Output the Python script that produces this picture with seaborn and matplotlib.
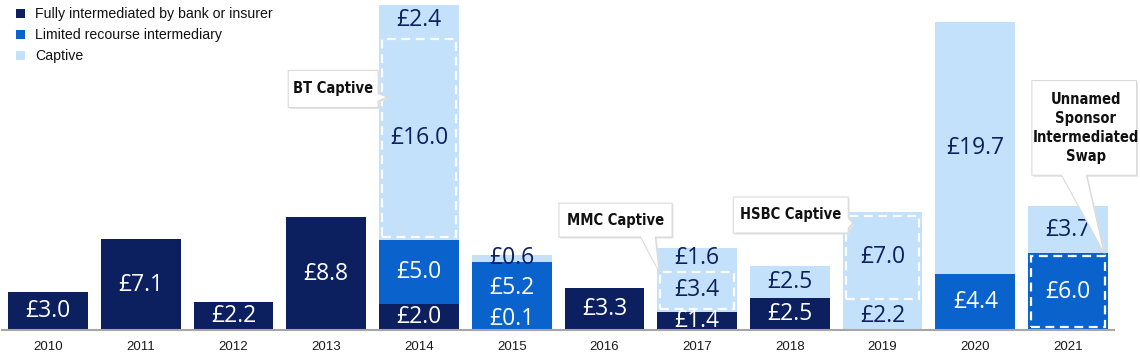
import numpy as np
import pandas as pd
import matplotlib
matplotlib.use("Agg")
import matplotlib.pyplot as plt
from matplotlib.patches import Rectangle, Polygon, Patch
import seaborn as sns

# ---------------- data ----------------
years = ["2010", "2011", "2012", "2013", "2014", "2015",
         "2016", "2017", "2018", "2019", "2020", "2021"]
fully = [3.0, 7.1, 2.2, 8.8, 2.0, 0.1, 3.3, 1.4, 2.5, 0.0, 0.0, 0.0]
limited = [0.0, 0.0, 0.0, 0.0, 5.0, 5.2, 0.0, 0.0, 0.0, 0.0, 4.4, 6.0]
captive_lower = [0.0, 0.0, 0.0, 0.0, 16.0, 0.6, 0.0, 3.4, 2.5, 2.2, 19.7, 3.7]
captive_upper = [0.0, 0.0, 0.0, 0.0, 2.4, 0.0, 0.0, 1.6, 0.0, 7.0, 0.0, 0.0]
legend_labels = ["Fully intermediated by bank or insurer",
                 "Limited recourse intermediary", "Captive"]
highlighted = [("2014", "captive_lower"), ("2017", "captive_lower"),
               ("2019", "captive_upper"), ("2021", "limited")]
callout_texts = ["BT Captive", "MMC Captive", "HSBC Captive",
                 "Unnamed\nSponsor\nIntermediated\nSwap"]

# ---------------- style ----------------
NAVY = "#0c1f5e"
MID = "#0a63cc"
LIGHT = "#c3e1fa"

sns.set_theme(style="white")
plt.rcParams["font.family"] = ["Liberation Sans", "DejaVu Sans"]

df = pd.DataFrame({"year": years, "fully": fully, "limited": limited,
                   "captive_lower": captive_lower, "captive_upper": captive_upper})
layers = ["fully", "limited", "captive_lower", "captive_upper"]
layer_color = {"fully": NAVY, "limited": MID, "captive_lower": LIGHT, "captive_upper": LIGHT}
cum = df[layers].cumsum(axis=1)

fig = plt.figure(figsize=(11.4, 3.57), dpi=100)
ax = fig.add_axes([0.0015, 0.0756, 0.976, 0.910])

W = 0.86
# stacked bars via cumulative totals, drawn from the top layer down
for lay in ["captive_upper", "limited", "fully"]:
    sns.barplot(x=df["year"], y=cum[lay], color=layer_color[lay], saturation=1,
                width=W, errorbar=None, ax=ax, order=years, linewidth=0)

ax.set_xlim(-0.5, 11.5)
ax.set_ylim(0, 25.4)

# labels
nudge = {("2015", "fully"): 0.85, ("2015", "limited"): 3.3}
for i, y in enumerate(years):
    bottom = 0.0
    for lay in layers:
        v = df.loc[i, lay]
        if v > 0:
            ypos = nudge.get((y, lay), bottom + v / 2)
            col = "white" if lay in ("fully", "limited") else NAVY
            ax.text(i, ypos, f"£{v:.1f}", ha="center", va="center", color=col,
                    fontsize=16.5, family=["Open Sans", "DejaVu Sans"], fontweight="normal")
            if (y, lay) in highlighted:
                dx, dy = 0.035, 0.25
                ax.add_patch(Rectangle((i - W / 2 + dx, bottom + dy), W - 2 * dx, v - 2 * dy,
                                       fill=False, edgecolor="white", lw=1.6,
                                       linestyle=(0, (4, 2.5)), zorder=5))
        bottom += v

# callouts
def callout(text, x0, x1, y0, y1, side, b0, b1, tip, tx, ty):
    if side == "bottom":
        verts = [(x0, y1), (x1, y1), (x1, y0), (b1, y0), tip, (b0, y0), (x0, y0)]
    else:
        verts = [(x0, y1), (x1, y1), (x1, b1), tip, (x1, b0), (x1, y0), (x0, y0)]
    sh = [(vx + 0.015, vy - 0.12) for vx, vy in verts]
    ax.add_patch(Polygon(sh, closed=True, facecolor="#e3e3e3", edgecolor="none",
                         zorder=6, clip_on=False))
    ax.add_patch(Polygon(verts, closed=True, facecolor="white", edgecolor="#dadada",
                         lw=0.8, zorder=7, clip_on=False))
    ax.text(tx, ty, text, ha="center", va="center", fontsize=10.5, color="#111111",
            family="DejaVu Sans", fontstretch="condensed", fontweight="bold",
            linespacing=1.35, zorder=8, clip_on=False)

callout(callout_texts[0], 2.59, 3.56, 17.4, 20.3, "right", 17.9, 18.5, (3.66, 18.2), 3.07, 18.85)
callout(callout_texts[1], 5.51, 6.73, 7.27, 9.92, "bottom", 6.39, 6.55, (6.59, 4.53), 6.12, 8.6)
callout(callout_texts[2], 7.39, 8.63, 7.58, 10.4, "right", 7.97, 8.75, (8.68, 8.36), 8.01, 9.0)
callout(callout_texts[3], 10.61, 11.74, 12.1, 19.5, "bottom", 10.93, 11.2, (11.39, 6.0), 11.19, 15.8)

# axes styling
for s in ["top", "right", "left"]:
    ax.spines[s].set_visible(False)
ax.spines["bottom"].set_color("#a6a6a6")
ax.spines["bottom"].set_linewidth(1.5)
ax.set_yticks([])
ax.set_xlabel("")
ax.set_ylabel("")
ax.tick_params(axis="x", length=0, pad=8, labelsize=9.5, labelcolor="#1a1a1a")

handles = [Patch(facecolor=c, edgecolor="none") for c in (NAVY, MID, LIGHT)]
fig.legend(handles, legend_labels, loc="upper left", bbox_to_anchor=(0.008, 1.0),
           frameon=False, fontsize=10.2, handlelength=0.6, handleheight=0.6,
           handletextpad=0.75, labelspacing=0.5, borderaxespad=0.1,
           labelcolor="#111111")

fig.savefig("out.png", dpi=100)
